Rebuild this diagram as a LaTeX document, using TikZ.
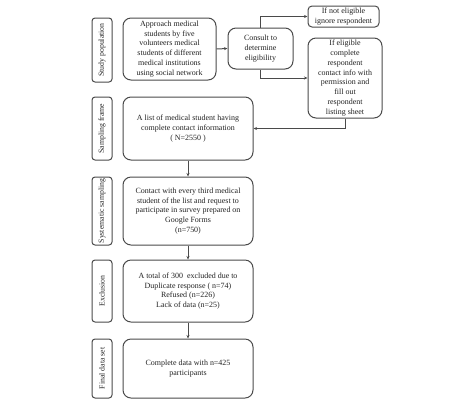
\documentclass[tikz,border=0pt]{standalone}
\usepackage{fontspec}
\setmainfont{Liberation Serif}
\usetikzlibrary{arrows.meta}
\definecolor{ln}{HTML}{4A4A4A}
\definecolor{tx}{HTML}{222222}
\begin{document}
\begin{tikzpicture}[x=1bp,y=-1bp,
  box/.style={draw=ln,line width=1bp,rounded corners=8bp,align=center,inner sep=1bp,
    font=\fontsize{8}{9.9}\selectfont,text=tx},
  side/.style={draw=ln,line width=1bp,rounded corners=3bp,align=center,inner sep=0bp,
    minimum width=20bp},
  sidetext/.style={rotate=90,font=\fontsize{7.8}{9.9}\selectfont,text=tx,inner sep=0bp},
  arr/.style={draw=ln,line width=1bp,-{Stealth[length=3.5bp,width=3bp]}}]
\useasboundingbox (0,0) rectangle (474,408);
% side labels
\node[side,minimum height=64bp] (s1) at (102,50) {};
\node[sidetext] (t1) at (s1.center) {Study population};
\node[side,minimum height=63bp] (s2) at (102,128.5) {};
\node[sidetext] (t2) at (s2.center) {Sampling frame};
\node[side,minimum height=68bp] (s3) at (102,211) {};
\node[sidetext] (t3) at (s3.center) {Systematic sampling};
\node[side,minimum height=62bp] (s4) at (102,291) {};
\node[sidetext] (t4) at (s4.center) {Exclusion};
\node[side,minimum height=59bp] (s5) at (102,368.5) {};
\node[sidetext] (t5) at (s5.center) {Final data set};
% main boxes
\node[box,minimum width=93bp,minimum height=62bp] (approach) at (169.5,49)
  {Approach medical\\students by five\\volunteers medical\\students of different\\medical institutions\\using social network};
\node[box,minimum width=65bp,minimum height=41bp] (consult) at (260.5,48.5)
  {Consult to\\determine\\eligibility};
\node[box,rounded corners=4bp,minimum width=71bp,minimum height=21bp] (noelig) at (343.5,16.5)
  {If not eligible\\ignore respondent};
\node[box,minimum width=74bp,minimum height=80bp] (elig) at (345,78)
  {If eligible\\complete\\respondent\\contact info with\\permission and\\fill out\\respondent\\listing sheet};
\node[box,minimum width=130bp,minimum height=63bp] (frame) at (188,128.5)
  {A list of medical student having\\complete contact information\\( N=2550 )};
\node[box,minimum width=130bp,minimum height=68bp] (syst) at (188,211)
  {Contact with every third medical\\student of the list and request to\\participate in survey prepared on\\Google Forms\\(n=750)};
\node[box,minimum width=130bp,minimum height=62bp] (excl) at (188,291)
  {A total of 300\ \ excluded due to\\Duplicate response ( n=74)\\Refused (n=226)\\Lack of data (n=25)};
\node[box,minimum width=130bp,minimum height=59bp] (final) at (188,368.5)
  {Complete data with n=425\\participants};
% connectors
\draw[arr] (approach.east) -- (consult.west);
\draw[arr] (consult.north) |- (noelig.west);
\draw[arr] (consult.south) |- (elig.west);
\draw[arr] (elig.south) |- (frame.east);
\draw[arr] (frame.south) -- (syst.north);
\draw[arr] (syst.south) -- (excl.north);
\draw[arr] (excl.south) -- (final.north);
\end{tikzpicture}
\end{document}
